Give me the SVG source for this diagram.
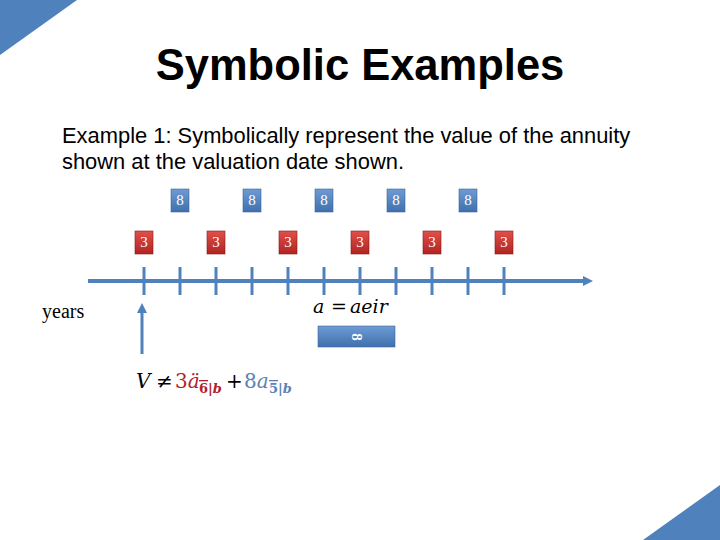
<svg xmlns="http://www.w3.org/2000/svg" width="720" height="540" viewBox="0 0 720 540">
<style>
.title{font-family:"Liberation Sans",Arial,sans-serif;font-weight:bold;font-size:43.5px;fill:#000}
.body{font-family:"Liberation Sans",Arial,sans-serif;font-size:21.9px;fill:#000}
.serif{font-family:"Liberation Serif",serif;fill:#000}
.math{font-family:"DejaVu Serif","Liberation Serif",serif;font-style:italic}
.red{fill:url(#gRed);stroke:#8a1a16;stroke-width:0.6}
.blue{fill:url(#gBlue);stroke:#3d6796;stroke-width:0.6}
.lbl{font-family:"Liberation Serif",serif;font-size:15px;fill:#fff;text-anchor:middle}
.tick{stroke:#4f81bd;stroke-width:3}
</style>
<defs>
<linearGradient id="gRed" x1="0" y1="0" x2="0" y2="1"><stop offset="0" stop-color="#e0504a"/><stop offset="1" stop-color="#b02420"/></linearGradient>
<linearGradient id="gBlue" x1="0" y1="0" x2="0" y2="1"><stop offset="0" stop-color="#6e9bd3"/><stop offset="1" stop-color="#3f70ae"/></linearGradient>
<marker id="ah" markerWidth="10" markerHeight="10" refX="5" refY="5" orient="auto" markerUnits="userSpaceOnUse"><path d="M0,0 L10,5 L0,10 z" fill="#4f81bd"/></marker>
</defs>
<rect width="720" height="540" fill="#fff"/>
<polygon points="0,0 77,0 0,55" fill="#4f81bd"/>
<polygon points="720,485 720,540 643,540" fill="#4f81bd"/>
<text class="title" x="360" y="80" text-anchor="middle">Symbolic Examples</text>
<text class="body" x="62" y="143">Example 1: Symbolically represent the value of the annuity</text>
<text class="body" x="62" y="169">shown at the valuation date shown.</text>
<g id="connectors">
<line x1="88" y1="281" x2="588" y2="281" stroke="#4f81bd" stroke-width="4" marker-end="url(#ah)"/>
<g>
<line class="tick" x1="144" y1="267" x2="144" y2="295"/>
<line class="tick" x1="180" y1="267" x2="180" y2="295"/>
<line class="tick" x1="216" y1="267" x2="216" y2="295"/>
<line class="tick" x1="252" y1="267" x2="252" y2="295"/>
<line class="tick" x1="288" y1="267" x2="288" y2="295"/>
<line class="tick" x1="324" y1="267" x2="324" y2="295"/>
<line class="tick" x1="360" y1="267" x2="360" y2="295"/>
<line class="tick" x1="396" y1="267" x2="396" y2="295"/>
<line class="tick" x1="432" y1="267" x2="432" y2="295"/>
<line class="tick" x1="468" y1="267" x2="468" y2="295"/>
<line class="tick" x1="504" y1="267" x2="504" y2="295"/>
</g>
<line x1="142" y1="354" x2="142" y2="308" stroke="#4f81bd" stroke-width="3" marker-end="url(#ah)"/>
</g>
<g id="r1"><rect class="red" x="135" y="231" width="18" height="23"/><text class="lbl" x="144" y="247">3</text></g>
<g id="r2"><rect class="red" x="207" y="231" width="18" height="23"/><text class="lbl" x="216" y="247">3</text></g>
<g id="r3"><rect class="red" x="279" y="231" width="18" height="23"/><text class="lbl" x="288" y="247">3</text></g>
<g id="r4"><rect class="red" x="351" y="231" width="18" height="23"/><text class="lbl" x="360" y="247">3</text></g>
<g id="r5"><rect class="red" x="423" y="231" width="18" height="23"/><text class="lbl" x="432" y="247">3</text></g>
<g id="r6"><rect class="red" x="495" y="231" width="18" height="23"/><text class="lbl" x="504" y="247">3</text></g>
<g id="b1"><rect class="blue" x="171" y="189" width="18" height="23"/><text class="lbl" x="180" y="205">8</text></g>
<g id="b2"><rect class="blue" x="243" y="189" width="18" height="23"/><text class="lbl" x="252" y="205">8</text></g>
<g id="b3"><rect class="blue" x="315" y="189" width="18" height="23"/><text class="lbl" x="324" y="205">8</text></g>
<g id="b4"><rect class="blue" x="387" y="189" width="18" height="23"/><text class="lbl" x="396" y="205">8</text></g>
<g id="b5"><rect class="blue" x="459" y="189" width="18" height="23"/><text class="lbl" x="468" y="205">8</text></g>
<text class="serif" x="42" y="318" font-size="20">years</text>
<text class="math" y="313" font-size="19" fill="#000"><tspan x="313">a</tspan><tspan x="331" font-style="normal">=</tspan><tspan x="350">aeir</tspan></text>
<g id="button"><rect class="blue" x="318" y="326" width="77" height="21"/><text class="lbl" transform="translate(357,337) rotate(90)" x="0" y="5" font-size="17" font-weight="bold">8</text></g>
<g id="formula">
<text class="math" y="388" font-size="20" fill="#000"><tspan x="136">V</tspan><tspan x="156" font-style="normal">≠</tspan><tspan x="175" fill="#b0222a" font-style="normal">3</tspan><tspan fill="#b0222a">ä</tspan><tspan x="226" font-style="normal">+</tspan><tspan x="244" fill="#5b82b8" font-style="normal">8</tspan><tspan fill="#5b82b8">a</tspan></text>
<text class="math" y="393" font-size="13" font-weight="bold"><tspan x="199" fill="#b0222a" font-style="normal" text-decoration="overline">6</tspan><tspan fill="#b0222a" font-style="normal">|</tspan><tspan fill="#b0222a">b</tspan><tspan x="269" fill="#5b82b8" font-style="normal" text-decoration="overline">5</tspan><tspan fill="#5b82b8" font-style="normal">|</tspan><tspan fill="#5b82b8">b</tspan></text>
</g>
</svg>
